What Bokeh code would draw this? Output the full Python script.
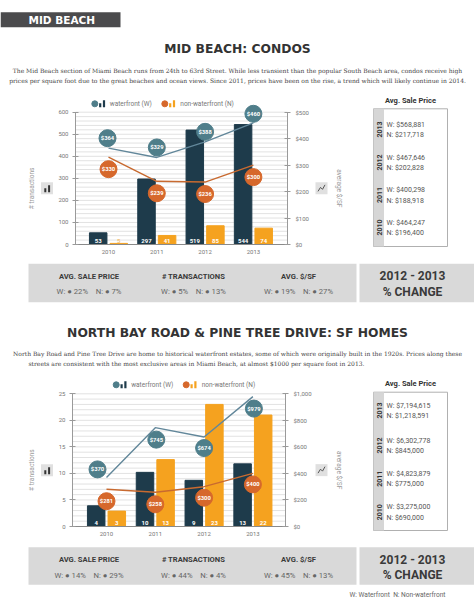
import numpy as np
from bokeh.plotting import figure
from bokeh.models import Range1d, LinearAxis, FixedTicker, NumeralTickFormatter
from bokeh.core.properties import value
from bokeh.embed import file_html
from bokeh.resources import INLINE

# ---------------- data ----------------
years = ["2010", "2011", "2012", "2013"]

condo_w_count = [53, 297, 519, 544]
condo_n_count = [5, 41, 85, 74]
condo_w_psf = [364, 329, 388, 460]
condo_n_psf = [330, 239, 236, 300]
condo_w_sale = [464247, 400298, 467646, 568881]
condo_n_sale = [196400, 188918, 202828, 217718]
condo_count_ticks = [0, 100, 200, 300, 400, 500, 600]
condo_psf_ticks = [0, 100, 200, 300, 400, 500]

homes_w_count = [4, 10, 9, 13]
homes_n_count = [3, 13, 23, 22]
homes_w_bar = [3.9, 10.2, 8.7, 11.8]   # bar heights as drawn in the picture
homes_n_bar = [2.9, 12.6, 23.0, 21.0]
homes_w_psf = [370, 745, 674, 979]
homes_n_psf = [281, 258, 300, 400]
homes_w_sale = [3275000, 4823879, 6302778, 7194615]
homes_n_sale = [690000, 775000, 845000, 1218591]
homes_count_ticks = [0, 5, 10, 15, 20, 25]
homes_psf_ticks = [0, 200, 400, 600, 800, 1000]

change_labels = ["AVG. SALE PRICE", "# TRANSACTIONS", "AVG. $/SF"]
condo_change_w = [22, 5, 19]
condo_change_n = [7, 13, 27]
homes_change_w = [14, 44, 45]
homes_change_n = [29, 4, 13]

# ---------------- style ----------------
W, H = 474, 613
SANS = "Roboto"
HEAD = "DejaVu Sans"
SERIF = "DejaVu Serif"
DARK = "#1e3b4b"
ORANGE = "#f5a21f"
TEAL_B = "#4f7e8a"
ORANGE_B = "#d6682c"
LINE_W = "#62879a"
LINE_N = "#c86a30"
NB = "\u00a0"

p = figure(width=W, height=H, x_range=Range1d(0, W), y_range=Range1d(H, 0),
           output_backend="svg", toolbar_location=None, x_axis_type=None,
           y_axis_type=None, min_border=0, min_border_left=0, min_border_right=0,
           min_border_top=0, min_border_bottom=0, outline_line_color=None,
           background_fill_color="white", border_fill_color="white")
p.xgrid.visible = False
p.ygrid.visible = False


def txt(x, y, s, size, color="#555", font=SANS, style="normal", align="left",
        baseline="middle", angle=0.0):
    p.text(x=[x], y=[y], text=[s], text_font=value(font), text_font_size=f"{size}px",
           text_color=color, text_font_style=style, text_align=align,
           text_baseline=baseline, angle=angle)


def bar_icon(cx, cy, color, w=2.2):
    p.quad(left=[cx - 3.2, cx + 0.6], right=[cx - 3.2 + w, cx + 0.6 + w],
           top=[cy - 0.5, cy - 3.5], bottom=[cy + 3.5, cy + 3.5],
           fill_color=color, line_color=None)


def legend(x, y):
    p.scatter(x=[x], y=[y], size=6, color=TEAL_B)
    bar_icon(x + 7.5, y, DARK)
    txt(x + 15, y, "waterfront (W)", 6.5, "#777")
    p.scatter(x=[x + 70], y=[y], size=6, color=ORANGE_B)
    bar_icon(x + 77.5, y, ORANGE)
    txt(x + 85.5, y, "non-waterfront (N)", 6.5, "#777")


def chart(tag, X0, XS, Y0, FH, XL, XR, cmax, pmax, ctick, ptick, gstep,
          wbar, nbar, wlab, nlab, wpsf, npsf, wdx, wdy, ndy):
    cppu = FH / cmax
    pppu = FH / pmax
    xn, cn, pn = tag + "x", tag + "n", tag + "p"
    p.extra_x_ranges[xn] = Range1d(-X0 / XS, (W - X0) / XS)
    p.extra_y_ranges[cn] = Range1d(-(H - Y0) / cppu, Y0 / cppu)
    p.extra_y_ranges[pn] = Range1d(-(H - Y0) / pppu, Y0 / pppu)
    xl_u, xr_u = (XL - X0) / XS, (XR - X0) / XS

    gy = np.arange(gstep, cmax + gstep / 2, gstep)
    p.segment(x0=[xl_u] * len(gy), x1=[xr_u] * len(gy), y0=gy, y1=gy,
              line_color="#e2e2e2", line_width=1, x_range_name=xn, y_range_name=cn)

    idx = np.arange(len(years))
    off = 10.3 / XS
    bw = 17.5 / XS
    p.vbar(x=idx - off, top=wbar, width=bw, color=DARK, x_range_name=xn, y_range_name=cn)
    p.vbar(x=idx + off, top=nbar, width=bw, color=ORANGE, x_range_name=xn, y_range_name=cn)
    p.text(x=idx - off, y=[0] * 4, text=[str(v) for v in wlab], y_offset=-2,
           text_baseline="bottom", text_align="center", text_color="white",
           text_font=value(SANS), text_font_style="bold", text_font_size="6px",
           x_range_name=xn, y_range_name=cn)
    ncol = ["white" if v * cppu > 9 else "#f3c27c" for v in nbar]
    p.text(x=idx + off, y=[0] * 4, text=[str(v) for v in nlab], y_offset=-2,
           text_baseline="bottom", text_align="center", text_color=ncol,
           text_font=value(SANS), text_font_style="bold", text_font_size="6px",
           x_range_name=xn, y_range_name=cn)

    p.line(x=idx, y=wpsf, line_color=LINE_W, line_width=1.4, x_range_name=xn, y_range_name=pn)
    p.line(x=idx, y=npsf, line_color=LINE_N, line_width=1.4, x_range_name=xn, y_range_name=pn)

    wbx = idx + np.array(wdx) / XS
    wby = np.array(wpsf) - np.array(wdy) / pppu
    nby = np.array(npsf) - np.array(ndy) / pppu
    p.scatter(x=wbx, y=wby, size=17, color=TEAL_B, x_range_name=xn, y_range_name=pn)
    p.scatter(x=idx, y=nby, size=17, color=ORANGE_B, x_range_name=xn, y_range_name=pn)
    p.text(x=wbx, y=wby, text=[f"${v}" for v in wpsf], text_align="center",
           text_baseline="middle", text_color="white", text_font=value(SANS),
           text_font_style="bold", text_font_size="5.8px", x_range_name=xn, y_range_name=pn)
    p.text(x=idx, y=nby, text=[f"${v}" for v in npsf], text_align="center",
           text_baseline="middle", text_color="white", text_font=value(SANS),
           text_font_style="bold", text_font_size="5.8px", x_range_name=xn, y_range_name=pn)

    common = dict(axis_line_color="#9a9a9a", major_tick_line_color="#9a9a9a",
                  minor_tick_line_color=None, major_label_text_color="#777",
                  major_label_text_font=SANS, major_label_text_font_size="6px")
    la = LinearAxis(y_range_name=cn, fixed_location=XL, ticker=FixedTicker(ticks=ctick),
                    bounds=(0, cmax), major_tick_in=3, major_tick_out=3,
                    major_label_standoff=4, **common)
    p.add_layout(la, "left")
    ra = LinearAxis(y_range_name=pn, fixed_location=XR, ticker=FixedTicker(ticks=ptick),
                    bounds=(0, pmax), major_tick_in=3, major_tick_out=3,
                    major_label_standoff=5, formatter=NumeralTickFormatter(format="$0,0"),
                    **common)
    p.add_layout(ra, "right")
    ba = LinearAxis(x_range_name=xn, fixed_location=Y0, ticker=FixedTicker(ticks=list(idx)),
                    major_label_overrides={int(i): y for i, y in enumerate(years)},
                    bounds=(xl_u, xr_u), major_tick_in=0, major_tick_out=0,
                    major_label_standoff=5, **common)
    ba.axis_line_color = "#8a8a8a"
    ba.axis_line_width = 1.2
    p.add_layout(ba, "below")

    cy = Y0 - FH / 2 + 10
    txt(31.5, cy, "# transactions", 6.5, "#999", angle=np.pi / 2, align="center")
    p.quad(left=[40.5], right=[52.5], top=[cy - 6], bottom=[cy + 6],
           fill_color="#e0e0e0", line_color=None)
    bar_icon(47, cy + 0.5, "#333", w=2)
    txt(338, cy, "average $/SF", 6.5, "#999", angle=-np.pi / 2, align="center")
    p.quad(left=[315], right=[327], top=[cy - 6], bottom=[cy + 6],
           fill_color="#e0e0e0", line_color=None)
    p.line(x=[317.5, 320, 322, 324.5], y=[cy + 3, cy - 1, cy + 1, cy - 3.5],
           line_color="#555", line_width=1)


def table(header_y, top, bottom, w_ys, wvals, nvals):
    txt(410, header_y, "Avg. Sale Price", 7.5, "#333", style="bold", align="center")
    p.quad(left=[373], right=[447], top=[top], bottom=[bottom],
           fill_color="white", line_color="#b0b0b0", line_width=1)
    p.quad(left=[373], right=[383.5], top=[top], bottom=[bottom],
           fill_color="#d6d6d6", line_color=None)
    for k, yr in enumerate(reversed(years)):
        j = len(years) - 1 - k
        wy = w_ys[k]
        txt(378.5, wy + 5, yr, 7, "#333", style="bold", align="center", angle=np.pi / 2)
        txt(386, wy, f"W: ${wvals[j]:,}", 7, "#555")
        txt(386, wy + 10.5, f"N: ${nvals[j]:,}", 7, "#555")


def stats(top, bottom, cw, cn):
    p.quad(left=[28], right=[356], top=[top], bottom=[bottom], fill_color="#d9d9d9", line_color=None)
    p.quad(left=[359], right=[474], top=[top], bottom=[bottom], fill_color="#d9d9d9", line_color=None)
    hy = top + 12.5
    vy = top + 28
    for cx, lab, w, n in zip([88.5, 193, 298], change_labels, cw, cn):
        txt(cx, hy, lab, 7.6, "#3a3a3a", style="bold", align="center")
        txt(cx, vy, f"W:{NB}\u25cf{NB}{w}%{NB*4}N:{NB}\u25cf{NB}{n}%", 7.7, "#666", align="center")
    txt(412, hy, "2012 - 2013", 12, "#3a3a3a", style="bold", align="center")
    txt(412, vy, "% CHANGE", 12, "#3a3a3a", style="bold", align="center")


# ---------------- section 1 ----------------
p.quad(left=[0], right=[120], top=[11.7], bottom=[26.7], fill_color="#4b4b4d", line_color=None)
txt(28, 19.5, "MID BEACH", 10.5, "white", font=HEAD, style="bold")
txt(237, 48, "MID BEACH: CONDOS", 12.3, "#333", font=HEAD, style="bold", align="center")
txt(237, 70, "The Mid Beach section of Miami Beach runs from 24th to 63rd Street. While less transient "
    "than the popular South Beach area, condos receive high", 6.0, "#444", font=SERIF, align="center")
txt(237, 80, "prices per square foot due to the great beaches and ocean views. Since 2011, prices have "
    "been on the rise, a trend which will likely continue in 2014.", 6.0, "#444", font=SERIF, align="center")
legend(94.3, 103.3)
chart("c1", 108, 48.3, 244, 132.3, 75, 287, 600, 500, condo_count_ticks, condo_psf_ticks, 20,
      condo_w_count, condo_n_count, condo_w_count, condo_n_count, condo_w_psf, condo_n_psf,
      [-1, 0, 0, 0], [-10, -10, -10, -9], [12, 12, 12, 12])
table(100, 108.3, 246, [124, 157, 189.5, 222], condo_w_sale, condo_n_sale)
stats(263.3, 301.7, condo_change_w, condo_change_n)

# ---------------- section 2 ----------------
txt(237, 332.3, "NORTH BAY ROAD & PINE TREE DRIVE: SF HOMES", 12.3, "#333", font=HEAD,
    style="bold", align="center")
txt(237, 353.3, "North Bay Road and Pine Tree Drive are home to historical waterfront estates, some of "
    "which were originally built in the 1920s. Prices along these", 6.0, "#444", font=SERIF, align="center")
txt(28, 362.7, "streets are consistent with the most exclusive areas in Miami Beach, at almost $1000 "
    "per square foot in 2013.", 6.0, "#444", font=SERIF)
legend(115.7, 384.3)
chart("c2", 106, 48.8, 526, 132.7, 72, 285, 25, 1000, homes_count_ticks, homes_psf_ticks, 1,
      homes_w_bar, homes_n_bar, homes_w_count, homes_n_count, homes_w_psf, homes_n_psf,
      [-9, 1, 0, 1], [-8, 12, 11, 12], [12, 12, 11, 11])
table(383.3, 391.7, 530, [405, 440, 473.3, 506.7], homes_w_sale, homes_n_sale)
stats(546.7, 584.3, homes_change_w, homes_change_n)
txt(445, 594.3, f"W: Waterfront{NB}{NB}N: Non-waterfront", 6.6, "#666", align="right")

open("out.html", "w").write(file_html(p, INLINE))
